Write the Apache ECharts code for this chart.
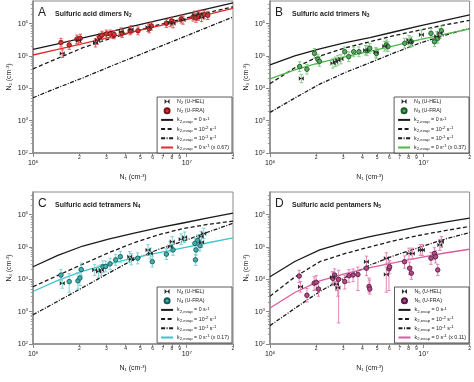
<!DOCTYPE html>
<html><head><meta charset="utf-8">
<script src="https://cdn.jsdelivr.net/npm/echarts@6/dist/echarts.min.js"></script>
<style>html,body{margin:0;padding:0;background:#fff}#c{width:474px;height:382px}</style>
</head><body><div id="c"></div>
<script>
// ---------- tick values ----------
const xMajor = [1e6, 1e7];
const xMinor = [2e6,3e6,4e6,5e6,6e6,7e6,8e6,9e6,1.9999e7];
const yMajor = [1e2,1e3,1e4,1e5,1e6];
const yMinor = [2e2,3e2,4e2,5e2,6e2,7e2,8e2,9e2,2e3,3e3,4e3,5e3,6e3,7e3,8e3,9e3,2e4,3e4,4e4,5e4,6e4,7e4,8e4,9e4,2e5,3e5,4e5,5e5,6e5,7e5,8e5,9e5,2e6,3e6,4e6];

// ---------- model curves (x samples, y per curve) ----------
const lineX = [1e6, 1.45e6, 2.11e6, 3.1e6, 4.48e6, 6.5e6, 9.46e6, 1.38e7, 2e7];
const A_k0 = [1.6e5, 2.38e5, 3.6e5, 5.5e5, 8.3e5, 1.25e6, 1.9e6, 2.9e6, 4.4e6];
const A_k2 = [4.0e4, 8.5e4, 1.8e5, 3.3e5, 5.6e5, 9.1e5, 1.4e6, 2.2e6, 3.3e6];
const A_k1 = [5.1e3, 1.05e4, 2.1e4, 4.5e4, 9.1e4, 1.86e5, 3.8e5, 7.9e5, 1.6e6];
const A_kf = [1.07e5, 1.6e5, 2.4e5, 3.7e5, 5.6e5, 8.4e5, 1.27e6, 1.94e6, 2.95e6];
const B_k0 = [5.3e4, 1.0e5, 1.66e5, 2.57e5, 3.7e5, 5.6e5, 8.5e5, 1.26e6, 1.86e6];
const B_k2 = [1.4e4, 4.3e4, 1.0e5, 1.78e5, 2.75e5, 4.3e5, 6.3e5, 9.1e5, 1.26e6];
const B_k1 = [1.8e3, 5.0e3, 1.35e4, 3.1e4, 6.2e4, 1.26e5, 2.5e5, 4.4e5, 7.1e5];
const B_kf = [1.95e4, 3.7e4, 6.2e4, 9.5e4, 1.38e5, 2.1e5, 3.2e5, 4.7e5, 6.9e5];
const C_k0 = [2.45e4, 5.5e4, 1.07e5, 1.74e5, 2.63e5, 3.9e5, 5.5e5, 7.9e5, 1.12e6];
const C_k2 = [5.9e3, 1.32e4, 2.95e4, 6.6e4, 1.32e5, 2.35e5, 3.7e5, 5.0e5, 6.3e5];
const C_k1 = [8e2, 2.1e3, 5.6e3, 1.55e4, 4.0e4, 8.3e4, 1.5e5, 2.9e5, 5.4e5];
const C_kf = [4.2e3, 9.3e3, 1.8e4, 2.95e4, 4.5e4, 6.6e4, 9.3e4, 1.35e5, 1.9e5];
const D_k0 = [1.2e4, 3.55e4, 8.1e4, 1.38e5, 2.1e5, 3.0e5, 4.3e5, 5.9e5, 7.8e5];
const D_k2 = [3.0e3, 1.17e4, 3.5e4, 6.3e4, 1.0e5, 1.58e5, 2.3e5, 3.2e5, 4.3e5];
const D_k1 = [3.7e2, 1.26e3, 4.2e3, 1.15e4, 2.75e4, 5.5e4, 9.8e4, 1.74e5, 2.8e5];
const D_kf = [1.3e3, 3.9e3, 8.9e3, 1.5e4, 2.3e4, 3.3e4, 4.7e4, 6.5e4, 8.5e4];

// ---------- measurements [N1, Nn, lower, upper] ----------
const A_hel = [[1.55e6,1.2e5,0.9e5,1.55e5],[1.98e6,3.0e5,2.2e5,4.0e5],[2.55e6,2.6e5,1.9e5,3.4e5],[2.62e6,3.1e5,2.3e5,4.1e5],[3.75e6,5.6e5,4.1e5,7.4e5],[4.35e6,6.6e5,4.9e5,8.7e5],[5.6e6,7.7e5,5.7e5,1.0e6],[7.8e6,1.07e6,8.0e5,1.4e6],[8.15e6,1.0e6,7.4e5,1.32e6],[9.46e6,1.29e6,9.6e5,1.7e6],[1.13e7,1.85e6,1.38e6,2.45e6],[1.25e7,1.55e6,1.15e6,2.05e6],[1.22e7,2.0e6,1.5e6,2.6e6]];
const A_fra = [[1.52e6,2.6e5,1.9e5,3.5e5],[1.72e6,2.2e5,1.6e5,2.9e5],[1.93e6,3.3e5,2.4e5,4.4e5],[2.03e6,3.5e5,2.6e5,4.7e5],[2.72e6,3.8e5,2.8e5,5.0e5],[2.81e6,4.4e5,3.3e5,5.8e5],[3.0e6,4.8e5,3.6e5,6.3e5],[3.18e6,4.8e5,3.6e5,6.3e5],[3.37e6,4.6e5,3.4e5,6.1e5],[3.8e6,5.0e5,3.7e5,6.6e5],[4.28e6,6.0e5,4.5e5,7.9e5],[4.82e6,6.0e5,4.5e5,7.9e5],[5.7e6,7.0e5,5.2e5,9.2e5],[5.89e6,8.5e5,6.3e5,1.12e6],[7.37e6,1.02e6,7.6e5,1.35e6],[8.0e6,1.2e6,8.9e5,1.58e6],[9.2e6,1.4e6,1.04e6,1.85e6],[1.1e7,1.6e6,1.2e6,2.1e6],[1.15e7,1.5e6,1.1e6,2.0e6],[1.19e7,1.7e6,1.26e6,2.25e6],[1.3e7,1.9e6,1.4e6,2.5e6],[1.37e7,1.8e6,1.34e6,2.4e6]];
const B_hel = [[1.6e6,2.0e4,1.5e4,2.7e4],[2.57e6,5.9e4,4.2e4,8.2e4],[2.67e6,6.6e4,4.7e4,9.2e4],[2.77e6,7.4e4,5.2e4,1.04e5],[2.9e6,8.0e4,5.7e4,1.12e5],[4.2e6,1.5e5,1.07e5,2.1e5],[4.9e6,1.3e5,9.2e4,1.82e5],[5.6e6,2.0e5,1.42e5,2.8e5],[8.05e6,3.1e5,2.2e5,4.3e5],[8.2e6,2.6e5,1.85e5,3.6e5],[9.7e6,4.5e5,3.2e5,6.3e5],[1.22e7,4.0e5,2.85e5,5.6e5],[1.28e7,5.0e5,3.55e5,7.0e5]];
const B_fra = [[1.56e6,4.7e4,3.3e4,6.6e4],[1.74e6,3.9e4,2.75e4,5.5e4],[1.95e6,1.2e5,8.5e4,1.7e5],[2.05e6,7.9e4,5.6e4,1.1e5],[2.1e6,6.8e4,4.8e4,9.6e4],[3.07e6,1.35e5,9.5e4,1.9e5],[3.26e6,9.5e4,6.7e4,1.34e5],[3.51e6,1.35e5,9.5e4,1.9e5],[3.8e6,1.35e5,9.5e4,1.9e5],[4.29e6,1.45e5,1.02e5,2.05e5],[4.47e6,1.73e5,1.22e5,2.45e5],[4.94e6,1.2e5,8.5e4,1.7e5],[5.73e6,2.2e5,1.55e5,3.1e5],[5.87e6,1.95e5,1.38e5,2.75e5],[7.55e6,2.47e5,1.75e5,3.5e5],[8.35e6,2.75e5,1.95e5,3.9e5],[1.12e7,5.0e5,3.55e5,7.0e5],[1.18e7,2.75e5,1.95e5,3.9e5],[1.24e7,3.5e5,2.5e5,4.9e5],[1.31e7,6.0e5,4.25e5,8.5e5]];
const C_hel = [[1.55e6,7.5e3,5.3e3,1.05e4],[2.52e6,1.95e4,1.3e4,2.9e4],[2.67e6,1.74e4,1.15e4,2.6e4],[2.78e6,1.95e4,1.3e4,2.9e4],[4.26e6,5.0e4,3.4e4,7.2e4],[4.36e6,4.2e4,2.8e4,6.2e4],[5.6e6,8.1e4,5.5e4,1.18e5],[5.8e6,6.3e4,4.3e4,9.2e4],[7.8e6,1.02e5,7.0e4,1.5e5],[8.05e6,1.45e5,1.0e5,2.1e5],[9.2e6,1.74e5,1.2e5,2.55e5],[9.7e6,2.0e5,1.38e5,2.9e5],[1.24e7,2.1e5,1.45e5,3.05e5],[1.29e7,2.6e5,1.8e5,3.8e5],[1.25e7,1.4e5,9.6e4,2.05e5]];
const C_fra = [[1.52e6,1.35e4,9.0e3,2.0e4],[1.72e6,8.5e3,4.0e3,1.5e4],[1.96e6,9.0e3,5.0e3,1.6e4],[2.02e6,1.1e4,6.5e3,1.9e4],[2.06e6,2.0e4,1.3e4,3.2e4],[2.85e6,2.45e4,1.6e4,3.7e4],[2.97e6,2.5e4,1.7e4,3.7e4],[3.17e6,3.0e4,2.0e4,4.5e4],[3.45e6,4.0e4,2.7e4,5.9e4],[3.7e6,5.0e4,3.4e4,7.3e4],[4.8e6,4.5e4,3.0e4,6.6e4],[5.97e6,3.5e4,2.4e4,5.2e4],[7.37e6,6.0e4,4.1e4,8.8e4],[8.15e6,8.1e4,5.5e4,1.19e5],[1.13e7,1.29e5,8.8e4,1.9e5],[1.14e7,4.0e4,2.7e4,5.9e4],[1.15e7,8.1e4,5.5e4,1.19e5],[1.22e7,1.1e5,7.5e4,1.6e5],[1.18e7,1.6e5,1.1e5,2.35e5]];
const D_hel = [[1.58e6,5.9e3,4.0e3,8.5e3],[2.55e6,1.15e4,7.5e3,1.7e4],[2.71e6,7.0e3,4.5e3,1.1e4],[2.77e6,5.5e3,3.0e3,9.0e3],[4.25e6,3.5e4,2.3e4,5.2e4],[5.73e6,4.5e4,3.0e4,6.6e4],[5.73e6,1.4e4,4.0e3,2.4e4],[8.05e6,6.3e4,4.2e4,9.2e4],[8.47e6,6.3e4,4.2e4,9.2e4],[9.55e6,8.1e4,5.5e4,1.18e5],[9.84e6,8.1e4,5.5e4,1.18e5],[1.28e7,1.15e5,7.8e4,1.68e5],[1.31e7,1.45e5,9.8e4,2.1e5]];
const D_fra = [[1.55e6,1.26e4,8.0e3,1.9e4],[1.74e6,3.2e3,2.0e3,5.2e3],[1.94e6,7.6e3,4.5e3,1.2e4],[2.0e6,8.1e3,4.8e3,1.3e4],[2.07e6,5.0e3,3.0e3,8.0e3],[2.57e6,1.07e4,6.5e3,1.7e4],[2.64e6,1.35e4,8.5e3,2.1e4],[2.8e6,1.0e4,4.5e2,1.9e4],[3.07e6,8.5e3,5.0e3,1.35e4],[3.27e6,1.29e4,8.0e3,2.0e4],[3.48e6,1.35e4,8.5e3,2.1e4],[3.74e6,1.41e4,4.5e3,2.4e4],[4.25e6,2.2e4,1.3e4,3.5e4],[4.42e6,6.0e3,4.0e3,1.1e4],[4.47e6,5.0e3,3.5e3,9.5e3],[5.96e6,2.1e4,4.5e3,3.4e4],[6.02e6,2.45e4,1.5e4,3.8e4],[7.53e6,3.5e4,2.2e4,5.3e4],[8.13e6,2.2e4,1.4e4,3.4e4],[8.34e6,1.55e4,1.0e4,2.4e4],[1.12e7,4.5e4,2.9e4,6.8e4],[1.18e7,6.3e4,4.0e4,9.5e4],[1.2e7,5.0e4,3.2e4,7.6e4],[1.24e7,1.95e4,1.3e4,2.9e4]];

// ---------- texts ----------
const panelLetters = ['A','B','C','D'];
const panelTitles = ['Sulfuric acid dimers N','Sulfuric acid trimers N','Sulfuric acid tetramers N','Sulfuric acid pentamers N'];
const clusterSub = ['2','3','4','5'];
const factors = ['0.67','0.37','0.17','0.11'];

// ---------- styling ----------
const FONT = 'Liberation Sans, Arial, Helvetica, sans-serif';
const AX = '#8a8a8a';
const lineCol = ['#e8282e','#4cb848','#3cc6c8','#dd5b9c'];
const errCol = ['#e84a4a','#7cc87c','#70d0d0','#e07ab0'];
const dotFill = ['#d63232','#58a860','#44aeae','#b04c84'];
const dotStroke = ['#7a1616','#1e5a28','#145c5c','#5a1c44'];
const HEL_SYM = 'path://M0,0L0,10L5,5Z M10,0L10,10L5,5Z';
const grids = [
  {left:33, top:1, width:200, height:152},
  {left:270, top:1, width:200, height:152},
  {left:33, top:192, width:200, height:152},
  {left:270, top:192, width:200, height:152}
];
const legendPos = [{right:242, top:97},{right:5, top:97},{right:242, top:287},{right:5, top:287}];

const measA = [A_hel, B_hel, C_hel, D_hel];
const measF = [A_fra, B_fra, C_fra, D_fra];
const curves = [[A_k0,A_k2,A_k1,A_kf],[B_k0,B_k2,B_k1,B_kf],[C_k0,C_k2,C_k1,C_kf],[D_k0,D_k2,D_k1,D_kf]];

const supSub = {
  sub:{fontSize:4.3, verticalAlign:'bottom', padding:[3,0,0,0], fontFamily:FONT},
  sup:{fontSize:4.3, verticalAlign:'top', padding:[0,0,3,0], fontFamily:FONT}
};
function digitFmt(v){ const e = Math.floor(Math.log10(v)+1e-9); return String(Math.round(v/Math.pow(10,e))); }
function powFmt(v){ return '10{sup|' + Math.round(Math.log10(v)) + '}'; }
function pair(ys){ return lineX.map((x,i)=>[x, ys[i]]); }

function errRender(color){
  return function(params, api){
    const x = api.value(0), lo = api.value(2), hi = api.value(3);
    const p1 = api.coord([x, lo]), p2 = api.coord([x, hi]);
    const w = 1.7, st = {stroke:color, lineWidth:0.9};
    return {type:'group', children:[
      {type:'line', shape:{x1:p1[0],y1:p1[1],x2:p2[0],y2:p2[1]}, style:st},
      {type:'line', shape:{x1:p1[0]-w,y1:p1[1],x2:p1[0]+w,y2:p1[1]}, style:st},
      {type:'line', shape:{x1:p2[0]-w,y1:p2[1],x2:p2[0]+w,y2:p2[1]}, style:st}
    ]};
  };
}

const option = {animation:false, backgroundColor:'#fff', textStyle:{fontFamily:FONT},
  grid:[], xAxis:[], yAxis:[], series:[], legend:[], title:[]};

for (let g=0; g<4; g++){
  const gr = grids[g];
  option.grid.push(Object.assign({show:true, borderColor:AX, borderWidth:1, containLabel:false}, gr));
  option.xAxis.push({type:'log', gridIndex:g, position:'bottom', min:1e6, max:2e7,
    axisLine:{show:true, onZero:false, lineStyle:{color:AX, width:1.6}},
    axisTick:{show:true, inside:false, length:4, customValues:xMajor, lineStyle:{color:AX, width:1}},
    axisLabel:{show:true, customValues:xMajor, formatter:powFmt, margin:7, fontSize:7, color:'#222', rich:supSub},
    splitLine:{show:false}, minorTick:{show:false},
    name:'N{sub|1} (cm{sup|-3})', nameLocation:'middle', nameGap:21,
    nameTextStyle:{fontSize:7, color:'#222', rich:supSub}});
  option.xAxis.push({type:'log', gridIndex:g, position:'bottom', min:1e6, max:2e7,
    axisLine:{show:false, onZero:false},
    axisTick:{show:true, inside:false, length:2.5, customValues:xMinor, lineStyle:{color:AX, width:1}},
    axisLabel:{show:true, customValues:xMinor, formatter:digitFmt, margin:2.5, fontSize:5, color:'#222'},
    splitLine:{show:false}});
  option.yAxis.push({type:'log', gridIndex:g, position:'left', min:1e2, max:5e6,
    axisLine:{show:true, onZero:false, lineStyle:{color:AX, width:1.6}},
    axisTick:{show:true, inside:false, length:4, customValues:yMajor, lineStyle:{color:AX, width:1}},
    axisLabel:{show:true, customValues:yMajor, formatter:powFmt, margin:5, fontSize:7, color:'#222', rich:supSub},
    splitLine:{show:false},
    name:'N{sub|' + clusterSub[g] + '} (cm{sup|-3})', nameLocation:'middle', nameGap:20,
    nameTextStyle:{fontSize:7, color:'#222', rich:supSub}});
  option.yAxis.push({type:'log', gridIndex:g, position:'left', min:1e2, max:5e6,
    axisLine:{show:false, onZero:false},
    axisTick:{show:true, inside:false, length:2.2, customValues:yMinor, lineStyle:{color:AX, width:0.8}},
    axisLabel:{show:false}, splitLine:{show:false}});

  const xi = 2*g, yi = 2*g;
  const P = panelLetters[g];
  const cv = curves[g];
  const lineDefs = [
    {name:P+'_k0', d:cv[0], color:'#1a1a1a', type:'solid'},
    {name:P+'_k2', d:cv[1], color:'#1a1a1a', type:[4,2.5]},
    {name:P+'_k1', d:cv[2], color:'#1a1a1a', type:[4,1.5,1,1.5]},
    {name:P+'_kf', d:cv[3], color:lineCol[g], type:'solid'}
  ];
  lineDefs.forEach(L => option.series.push({type:'line', name:L.name, xAxisIndex:xi, yAxisIndex:yi,
    data:pair(L.d), smooth:false, symbol:'none', showSymbol:false, z:2,
    lineStyle:{color:L.color, width:1.3, type:L.type, join:'round'}, itemStyle:{color:L.color, opacity:0}}));

  const allMeas = measA[g].concat(measF[g]);
  option.series.push({type:'custom', name:P+'_err', xAxisIndex:xi, yAxisIndex:yi, z:3,
    data:allMeas, encode:{x:0, y:1}, renderItem:errRender(errCol[g])});
  option.series.push({type:'scatter', name:P+'_fra', xAxisIndex:xi, yAxisIndex:yi, z:4,
    data:measF[g].map(r=>[r[0], r[1]]), symbol:'circle', symbolSize:4.5,
    itemStyle:{color:dotFill[g], borderColor:dotStroke[g], borderWidth:0.9, opacity:1}});
  option.series.push({type:'scatter', name:P+'_hel', xAxisIndex:xi, yAxisIndex:yi, z:5,
    data:measA[g].map(r=>[r[0], r[1]]), symbol:HEL_SYM, symbolSize:[5,4.5],
    itemStyle:{color:'#2a2a2a', opacity:1}});

  const n = clusterSub[g];
  const legendText = {};
  legendText[P+'_hel'] = 'N{sub|'+n+'} (U-HEL)';
  legendText[P+'_fra'] = 'N{sub|'+n+'} (U-FRA)';
  legendText[P+'_k0'] = 'k{sub|2,evap} = 0 s{sup|-1}';
  legendText[P+'_k2'] = 'k{sub|2,evap} = 10{sup|-2} s{sup|-1}';
  legendText[P+'_k1'] = 'k{sub|2,evap} = 10{sup|-1} s{sup|-1}';
  legendText[P+'_kf'] = 'k{sub|2,evap} = 0 s{sup|-1} (x '+factors[g]+')';
  option.legend.push(Object.assign({orient:'vertical', align:'left',
    data:[P+'_hel',P+'_fra',P+'_k0',P+'_k2',P+'_k1',P+'_kf'],
    formatter:(name)=>legendText[name], selectedMode:false,
    itemWidth:12, itemHeight:5, itemGap:2.2, padding:[2,3,2,3],
    borderColor:'#333', borderWidth:0.8, backgroundColor:'#fff', borderRadius:0,
    textStyle:{fontSize:5.3, color:'#222', fontFamily:FONT, rich:supSub, padding:[0,0,0,-1]}}, legendPos[g]));

  option.title.push({text:P, left:gr.left+5, top:gr.top+6, padding:0,
    textStyle:{fontSize:12, fontWeight:'normal', color:'#222', fontFamily:FONT}});
  option.title.push({text:'{t|'+panelTitles[g]+'}{s|'+n+'}', left:gr.left+22, top:gr.top+9, padding:0,
    textStyle:{rich:{t:{fontSize:7, fontWeight:'bold', color:'#222', fontFamily:FONT},
      s:{fontSize:4.8, fontWeight:'bold', color:'#222', fontFamily:FONT, verticalAlign:'bottom', padding:[3,0,0,0]}}}});
}

const chart = echarts.init(document.getElementById('c'), null, {renderer:'canvas'});
chart.setOption(option);
</script></body></html>
